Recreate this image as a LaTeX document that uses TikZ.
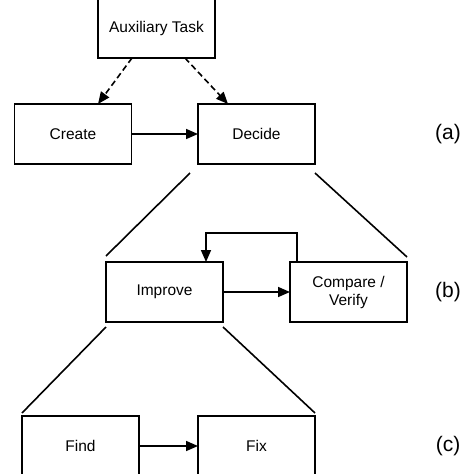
\documentclass[tikz,border=0pt]{standalone}
\usepackage{fontspec}
\setmainfont{Liberation Sans}
\usetikzlibrary{arrows.meta}

\begin{document}
\begin{tikzpicture}[x=1pt, y=-1pt, line width=1.6pt,
  every node/.style={outer sep=0pt, inner sep=0pt},
  taskbox/.style={draw, minimum width=117pt, minimum height=60pt, align=center,
    font=\fontsize{15.5}{18}\selectfont},
  partlabel/.style={font=\fontsize{21}{24}\selectfont},
  flow/.style={-{Triangle[length=12pt,width=10pt]}},
  hint/.style={flow, dash pattern=on 6pt off 3.5pt}]
\useasboundingbox (0,0) rectangle (474,474);

% level (a)
\node[taskbox] (aux) at (156.5,28) {Auxiliary Task};
\node[taskbox] (create) at (73,134) {Create};
\node[taskbox] (decide) at (256.5,134) {Decide};
\node[partlabel] (lbla) at (448,134) {(a)};

% level (b)
\node[taskbox] (improve) at (164.5,292) {Improve};
\node[taskbox] (compare) at (348.5,292) {Compare /\\Verify};
\node[partlabel] (lblb) at (448,292) {(b)};

% level (c)
\node[taskbox] (find) at (80.5,446) {Find};
\node[taskbox] (fix) at (256.5,446) {Fix};
\node[partlabel] (lblc) at (448,446) {(c)};

\draw[hint] ([xshift=-24.5pt]aux.south) -- ([xshift=25pt]create.north);
\draw[hint] ([xshift=28.5pt]aux.south) -- ([xshift=-28.5pt]decide.north);
\draw[flow] (create) -- (decide);

\draw[flow] (improve) -- (compare);
\coordinate (loop) at (297,233);
\draw[flow] (compare.north west -| loop) -- (loop) -| ([xshift=41.5pt]improve.north);

\draw[flow] (find) -- (fix);

% zoom lines
\draw ([shift={(-8,9)}]decide.south west) -- ([shift={(0,-6)}]improve.north west);
\draw ([shift={(0,9)}]decide.south east) -- ([shift={(0,-5)}]compare.north east);
\draw ([shift={(0,5)}]improve.south west) -- ([shift={(0,-3)}]find.north west);
\draw ([shift={(0,5)}]improve.south east) -- ([shift={(0,-3)}]fix.north east);
\end{tikzpicture}
\end{document}
